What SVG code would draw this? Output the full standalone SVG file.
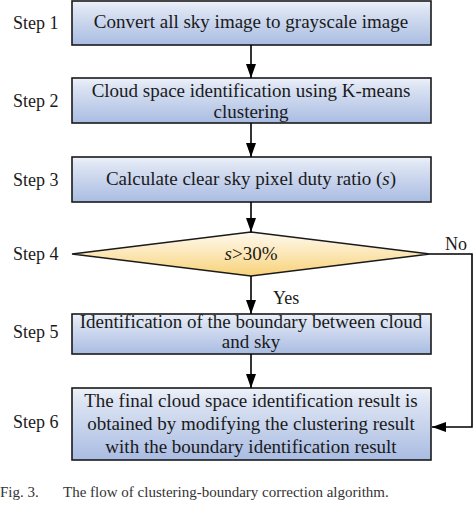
<svg xmlns="http://www.w3.org/2000/svg" width="474" height="506" viewBox="0 0 474 506">
<defs>
<linearGradient id="gb" x1="0" y1="0" x2="0" y2="1">
<stop offset="0" stop-color="#eef2fa"/>
<stop offset="0.15" stop-color="#dfe6f4"/>
<stop offset="1" stop-color="#a9bce2"/>
</linearGradient>
<linearGradient id="gy" x1="0" y1="0" x2="0" y2="1">
<stop offset="0" stop-color="#fffaf0"/>
<stop offset="1" stop-color="#f8d27a"/>
</linearGradient>
<marker id="ah" viewBox="0 0 14 10" refX="14" refY="5" markerWidth="14" markerHeight="10" markerUnits="userSpaceOnUse" orient="auto">
<path d="M0,0 L14,5 L0,10 z" fill="#000"/>
</marker>
</defs>
<style>
.box{fill:url(#gb);stroke:#1a1a1a;stroke-width:1.6}
.dia{fill:url(#gy);stroke:#1a1a1a;stroke-width:1.5}
.ln{fill:none;stroke:#000;stroke-width:1.6}
</style>
<rect width="474" height="506" fill="#fff"/>
<g id="labels" fill="#1a1a1a">
<text style="font-family:'Liberation Serif',serif;font-size:18px" x="13" y="29">Step 1</text>
<text style="font-family:'Liberation Serif',serif;font-size:18px" x="13" y="107">Step 2</text>
<text style="font-family:'Liberation Serif',serif;font-size:18px" x="13" y="186">Step 3</text>
<text style="font-family:'Liberation Serif',serif;font-size:18px" x="13" y="260">Step 4</text>
<text style="font-family:'Liberation Serif',serif;font-size:18px" x="13" y="338">Step 5</text>
<text style="font-family:'Liberation Serif',serif;font-size:18px" x="13" y="428">Step 6</text>
</g>
<g id="step1">
<rect class="box" x="72" y="1" width="359" height="44"/>
<text style="font-family:'Liberation Serif',serif;font-size:19px" text-anchor="middle" fill="#1a1a1a" x="251" y="28">Convert all sky image to grayscale image</text>
</g>
<g id="step2">
<rect class="box" x="72" y="78" width="359" height="45"/>
<text style="font-family:'Liberation Serif',serif;font-size:19px" text-anchor="middle" fill="#1a1a1a" x="251" y="97">Cloud space identification using K-means</text>
<text style="font-family:'Liberation Serif',serif;font-size:19px" text-anchor="middle" fill="#1a1a1a" x="251" y="118">clustering</text>
</g>
<g id="step3">
<rect class="box" x="72" y="157" width="359" height="45"/>
<text style="font-family:'Liberation Serif',serif;font-size:19px" text-anchor="middle" fill="#1a1a1a" x="251" y="185">Calculate clear sky pixel duty ratio (<tspan font-style="italic">s</tspan>)</text>
</g>
<g id="step4">
<polygon class="dia" points="72,254 251,232 430,254 251,276"/>
<text style="font-family:'Liberation Serif',serif;font-size:19px" text-anchor="middle" fill="#1a1a1a" x="251" y="260"><tspan font-style="italic">s</tspan>&gt;30%</text>
</g>
<g id="step5">
<rect class="box" x="72" y="314" width="359" height="40"/>
<text style="font-family:'Liberation Serif',serif;font-size:19px" text-anchor="middle" fill="#1a1a1a" x="251" y="328">Identification of the boundary between cloud</text>
<text style="font-family:'Liberation Serif',serif;font-size:19px" text-anchor="middle" fill="#1a1a1a" x="251" y="348">and sky</text>
</g>
<g id="step6">
<rect class="box" x="72" y="388" width="359" height="72"/>
<text style="font-family:'Liberation Serif',serif;font-size:19px" text-anchor="middle" fill="#1a1a1a" x="251" y="407">The final cloud space identification result is</text>
<text style="font-family:'Liberation Serif',serif;font-size:19px" text-anchor="middle" fill="#1a1a1a" x="251" y="430">obtained by modifying the clustering result</text>
<text style="font-family:'Liberation Serif',serif;font-size:19px" text-anchor="middle" fill="#1a1a1a" x="251" y="453">with the boundary identification result</text>
</g>
<g id="connectors">
<line class="ln" x1="251" y1="45" x2="251" y2="78" marker-end="url(#ah)"/>
<line class="ln" x1="251" y1="123" x2="251" y2="157" marker-end="url(#ah)"/>
<line class="ln" x1="251" y1="202" x2="251" y2="232" marker-end="url(#ah)"/>
<line class="ln" x1="251" y1="276" x2="251" y2="314" marker-end="url(#ah)"/>
<line class="ln" x1="251" y1="354" x2="251" y2="388" marker-end="url(#ah)"/>
<polyline class="ln" points="430,254 472,254 472,427 432,427" marker-end="url(#ah)"/>
<text style="font-family:'Liberation Serif',serif;font-size:18px" fill="#1a1a1a" x="273" y="304">Yes</text>
<text style="font-family:'Liberation Serif',serif;font-size:18px" fill="#1a1a1a" x="445" y="250">No</text>
</g>
<g id="caption" fill="#333">
<text style="font-family:'Liberation Serif',serif;font-size:15px" x="0" y="497">Fig. 3.</text>
<text style="font-family:'Liberation Serif',serif;font-size:15px" x="63" y="497">The flow of clustering-boundary correction algorithm.</text>
</g>
</svg>
